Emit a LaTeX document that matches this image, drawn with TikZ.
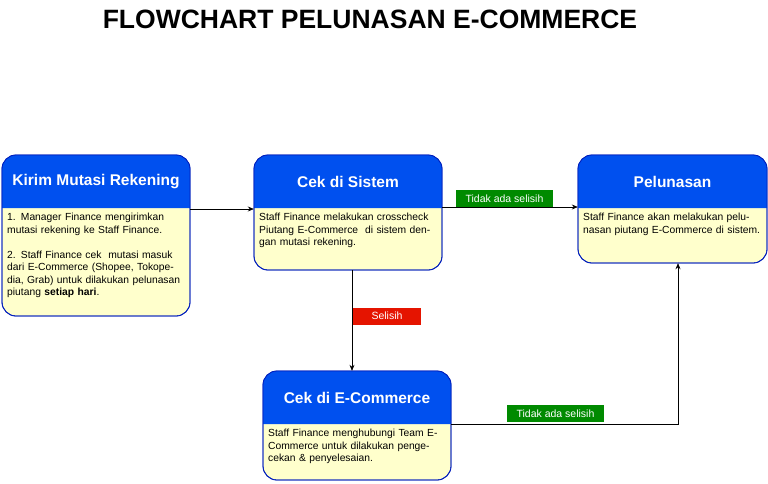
\documentclass[tikz,border=0pt]{standalone}
\usepackage{fontspec}
\setmainfont{Liberation Sans}
\usetikzlibrary{arrows.meta}
\definecolor{hdr}{HTML}{0050EF}
\definecolor{brd}{HTML}{001DBC}
\definecolor{bdy}{HTML}{FFFFCC}
\definecolor{grn}{HTML}{008A00}
\definecolor{rd}{HTML}{E51400}
\tikzset{
  body/.style={fill=bdy,draw=brd,line width=0.8pt,rounded corners=14pt},
  title/.style={text=white,font=\fontsize{15.5}{18}\selectfont\bfseries},
  btext/.style={anchor=north west,align=left,font=\fontsize{10.3}{12.5}\selectfont,inner sep=0pt},
  conn/.style={draw=black,line width=0.7pt,-{Stealth[length=6pt,width=5pt]}},
  tag/.style={text=white,font=\fontsize{10.5}{12}\selectfont,inner sep=0pt,minimum height=17pt}
}
\newcommand\flowbox[8]{% name,x1,y1,x2,y2,header bottom,title,body
  \path[body] (#2,#3) rectangle (#4,#5);
  \fill[hdr] (#2,#6) [rounded corners=14pt] -- (#2,#3) -- (#4,#3) [sharp corners] -- (#4,#6) -- cycle;
  \draw[brd,line width=0.8pt,rounded corners=14pt] (#2,#3) rectangle (#4,#5);
  \node[title] at ({(#2+#4)/2},{(#3+#6)/2}) {#7};
  \node[btext,text width={#4-#2-10}] at ({#2+5},{#6+5}) {\raggedright #8};
  \node[inner sep=0pt,minimum width={#4-#2},minimum height={#5-#3}] (#1) at ({(#2+#4)/2},{(#3+#5)/2}) {};
}
\begin{document}
\begin{tikzpicture}[x=1pt,y=-1pt]
\useasboundingbox (0,0) rectangle (768,483);
\node[font=\fontsize{26.5}{30}\selectfont\bfseries] (ttl) at (370,19) {FLOWCHART PELUNASAN E-COMMERCE};
\flowbox{a}{2}{155}{190}{316}{208}{Kirim Mutasi Rekening}{1. Manager Finance mengirimkan mutasi rekening ke Staff Finance.\\[12.5pt]2. Staff Finance cek\ \ mutasi masuk dari E-Commerce (Shopee, Tokopedia, Grab) untuk dilakukan pelunasan piutang \textbf{setiap hari}.}
\flowbox{b}{254}{155}{442}{270}{208}{Cek di Sistem}{Staff Finance melakukan crosscheck Piutang E-Commerce\ \ di sistem dengan mutasi rekening.}
\flowbox{c}{578}{155}{767}{263}{208}{Pelunasan}{Staff Finance akan melakukan pelunasan piutang E-Commerce di sistem.}
\flowbox{d}{263}{371}{451}{480}{424}{Cek di E-Commerce}{Staff Finance menghubungi Team E-Commerce untuk dilakukan pengecekan \& penyelesaian.}
\draw[conn] (a.east|-0,209) -- (b.west|-0,209);
\draw[conn] (b.east|-0,207) -- (c.west|-0,207);
\draw[conn] (352,270) -- (d.north-|352,0);
\coordinate (k) at (678,424);
\draw[conn] (d.east|-k) -- (k) -- (c.south-|k);
\node[tag,fill=grn,minimum width=97pt] (t1) at (504.5,198.5) {Tidak ada selisih};
\node[tag,fill=rd,minimum width=68pt] (t2) at (387,316) {Selisih};
\node[tag,fill=grn,minimum width=97pt] (t3) at (555.5,413.5) {Tidak ada selisih};
\end{tikzpicture}
\end{document}
